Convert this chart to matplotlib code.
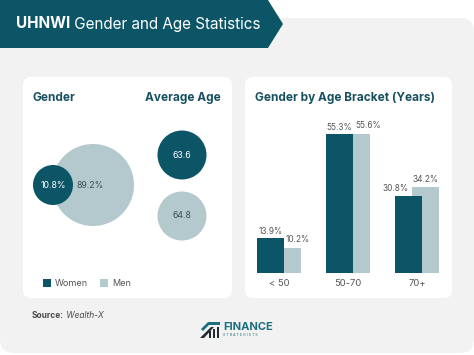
import numpy as np
import matplotlib.pyplot as plt
from matplotlib.patches import FancyBboxPatch, Polygon, Circle, Rectangle

plt.rcParams['font.family'] = ['Inter', 'DejaVu Sans']

# ── Data ──────────────────────────────────────────────────────
gender_labels = ['Women', 'Men']
gender_share = [10.8, 89.2]
avg_age = [63.6, 64.8]
brackets = ['< 50', '50-70', '70+']
women_pct = [13.9, 55.3, 30.8]
men_pct = [10.2, 55.6, 34.2]

DARK = '#0c5567'
LIGHT = '#b4c9ce'
HEAD = '#17505f'
GREY = '#555555'

W, H = 474, 355
fig = plt.figure(figsize=(W / 100, H / 100), dpi=100, facecolor='white')

# ── Decoration layer (pixel coordinates) ──────────────────────
ax0 = fig.add_axes([0, 0, 1, 1])
ax0.set_xlim(0, W)
ax0.set_ylim(H, 0)
ax0.axis('off')

ax0.add_patch(FancyBboxPatch((0, 18), W, 335, boxstyle='round,pad=0,rounding_size=14',
                             fc='#f2f2f2', ec='none'))
for x0, x1 in [(23, 232), (245, 452)]:
    ax0.add_patch(FancyBboxPatch((x0, 77), x1 - x0, 221,
                                 boxstyle='round,pad=0,rounding_size=8',
                                 fc='white', ec='none'))

# banner
ax0.add_patch(Polygon([(0, 0), (268, 0), (283, 24), (268, 48), (0, 48)],
                      closed=True, fc=DARK, ec='none'))
t1 = ax0.text(16, 24, 'UHNWI', color='white', fontsize=11, fontweight='bold',
              va='center', ha='left')
ax0.annotate(' Gender and Age Statistics', xy=(1, 0), xycoords=t1,
             color='white', fontsize=11, va='bottom', ha='left')

# left card headings
ax0.text(33, 98, 'Gender', color=HEAD, fontsize=8.5, fontweight='bold', va='center')
ax0.text(221, 98, 'Average Age', color=HEAD, fontsize=8.5, fontweight='bold',
         va='center', ha='right')

# gender circles
ax0.add_patch(Circle((93, 185), 41, fc=LIGHT, ec='none'))
ax0.add_patch(Circle((53, 185), 20, fc=DARK, ec='none'))
ax0.text(53, 185, f'{gender_share[0]}%', color='white', fontsize=6.3,
         ha='center', va='center')
ax0.text(90, 185, f'{gender_share[1]}%', color='#3d4f54', fontsize=6.3,
         ha='center', va='center')

# average age circles
for yc, val, fc, tc in [(155, avg_age[0], DARK, 'white'),
                        (216, avg_age[1], LIGHT, '#3d4f54')]:
    ax0.add_patch(Circle((182, yc), 24.5, fc=fc, ec='none'))
    ax0.text(182, yc, f'{val}', color=tc, fontsize=6.3, ha='center', va='center')

# legend
for xs, lab, fc in [(43, gender_labels[0], DARK), (100, gender_labels[1], LIGHT)]:
    ax0.add_patch(Rectangle((xs, 279), 8, 8, fc=fc, ec='none'))
    ax0.text(xs + 12, 283, lab, color=GREY, fontsize=6.5, va='center')

# right card heading
ax0.text(255, 98, 'Gender by Age Bracket (Years)', color=HEAD, fontsize=8.5,
         fontweight='bold', va='center')

# source
t2 = ax0.text(32, 315, 'Source:', color='#4a4a4a', fontsize=6, fontweight='bold',
              va='center')
ax0.annotate(' Wealth-X', xy=(1, 0), xycoords=t2, color='#4a4a4a', fontsize=6,
             style='italic', va='bottom')

# logo
ax0.add_patch(Polygon([(201, 329), (208, 322), (220, 322), (220, 325), (209, 325), (203, 331)],
                      closed=True, fc='#1b6f80', ec='none'))
ax0.add_patch(Polygon([(200, 338), (211, 327), (214, 327), (204, 338)],
                      closed=True, fc='#1f2d33', ec='none'))
for bx, bt in [(209, 331), (213, 329), (217, 327)]:
    ax0.add_patch(Rectangle((bx, bt), 2.2, 338 - bt, fc='#1f2d33', ec='none'))
ax0.text(223, 326.5, 'FINANCE', color='#1b6f80', fontsize=8, fontweight='bold',
         va='center')
ax0.text(223.5, 335, 'S T R A T E G I S T S', color='#1b6f80', fontsize=2.6,
         va='center')

# ── Bar chart ─────────────────────────────────────────────────
px = 69.2
ax = fig.add_axes([244.4 / W, (H - 273.3) / H, 3 * px / W, 150.6 / H])
ax.patch.set_alpha(0)
x = np.arange(len(brackets))
bw = 27 / px
off = 8.5 / px
ax.bar(x + off, men_pct, width=bw, color=LIGHT, zorder=1)
ax.bar(x - off, women_pct, width=bw, color=DARK, zorder=2)

dark_dx = [0, 0, -13 / px]
light_dx = [10 / px, 11.5 / px, 0]
for i in range(len(brackets)):
    ax.annotate(f'{women_pct[i]}%', (x[i] - off + dark_dx[i], women_pct[i]),
                xytext=(0, 2), textcoords='offset points', ha='center', va='bottom',
                fontsize=6, color=GREY, zorder=3)
    ax.annotate(f'{men_pct[i]}%', (x[i] + off + light_dx[i], men_pct[i]),
                xytext=(0, 2.5), textcoords='offset points', ha='center', va='bottom',
                fontsize=6, color=GREY, zorder=3)

ax.set_xlim(-0.5, 2.5)
ax.set_ylim(0, 60)
ax.set_xticks(x)
ax.set_xticklabels(brackets, fontsize=6.8, color=GREY)
ax.tick_params(axis='x', length=0, pad=4)
ax.set_yticks([])
for s in ax.spines.values():
    s.set_visible(False)

fig.savefig('out.png', dpi=100, facecolor='white')
